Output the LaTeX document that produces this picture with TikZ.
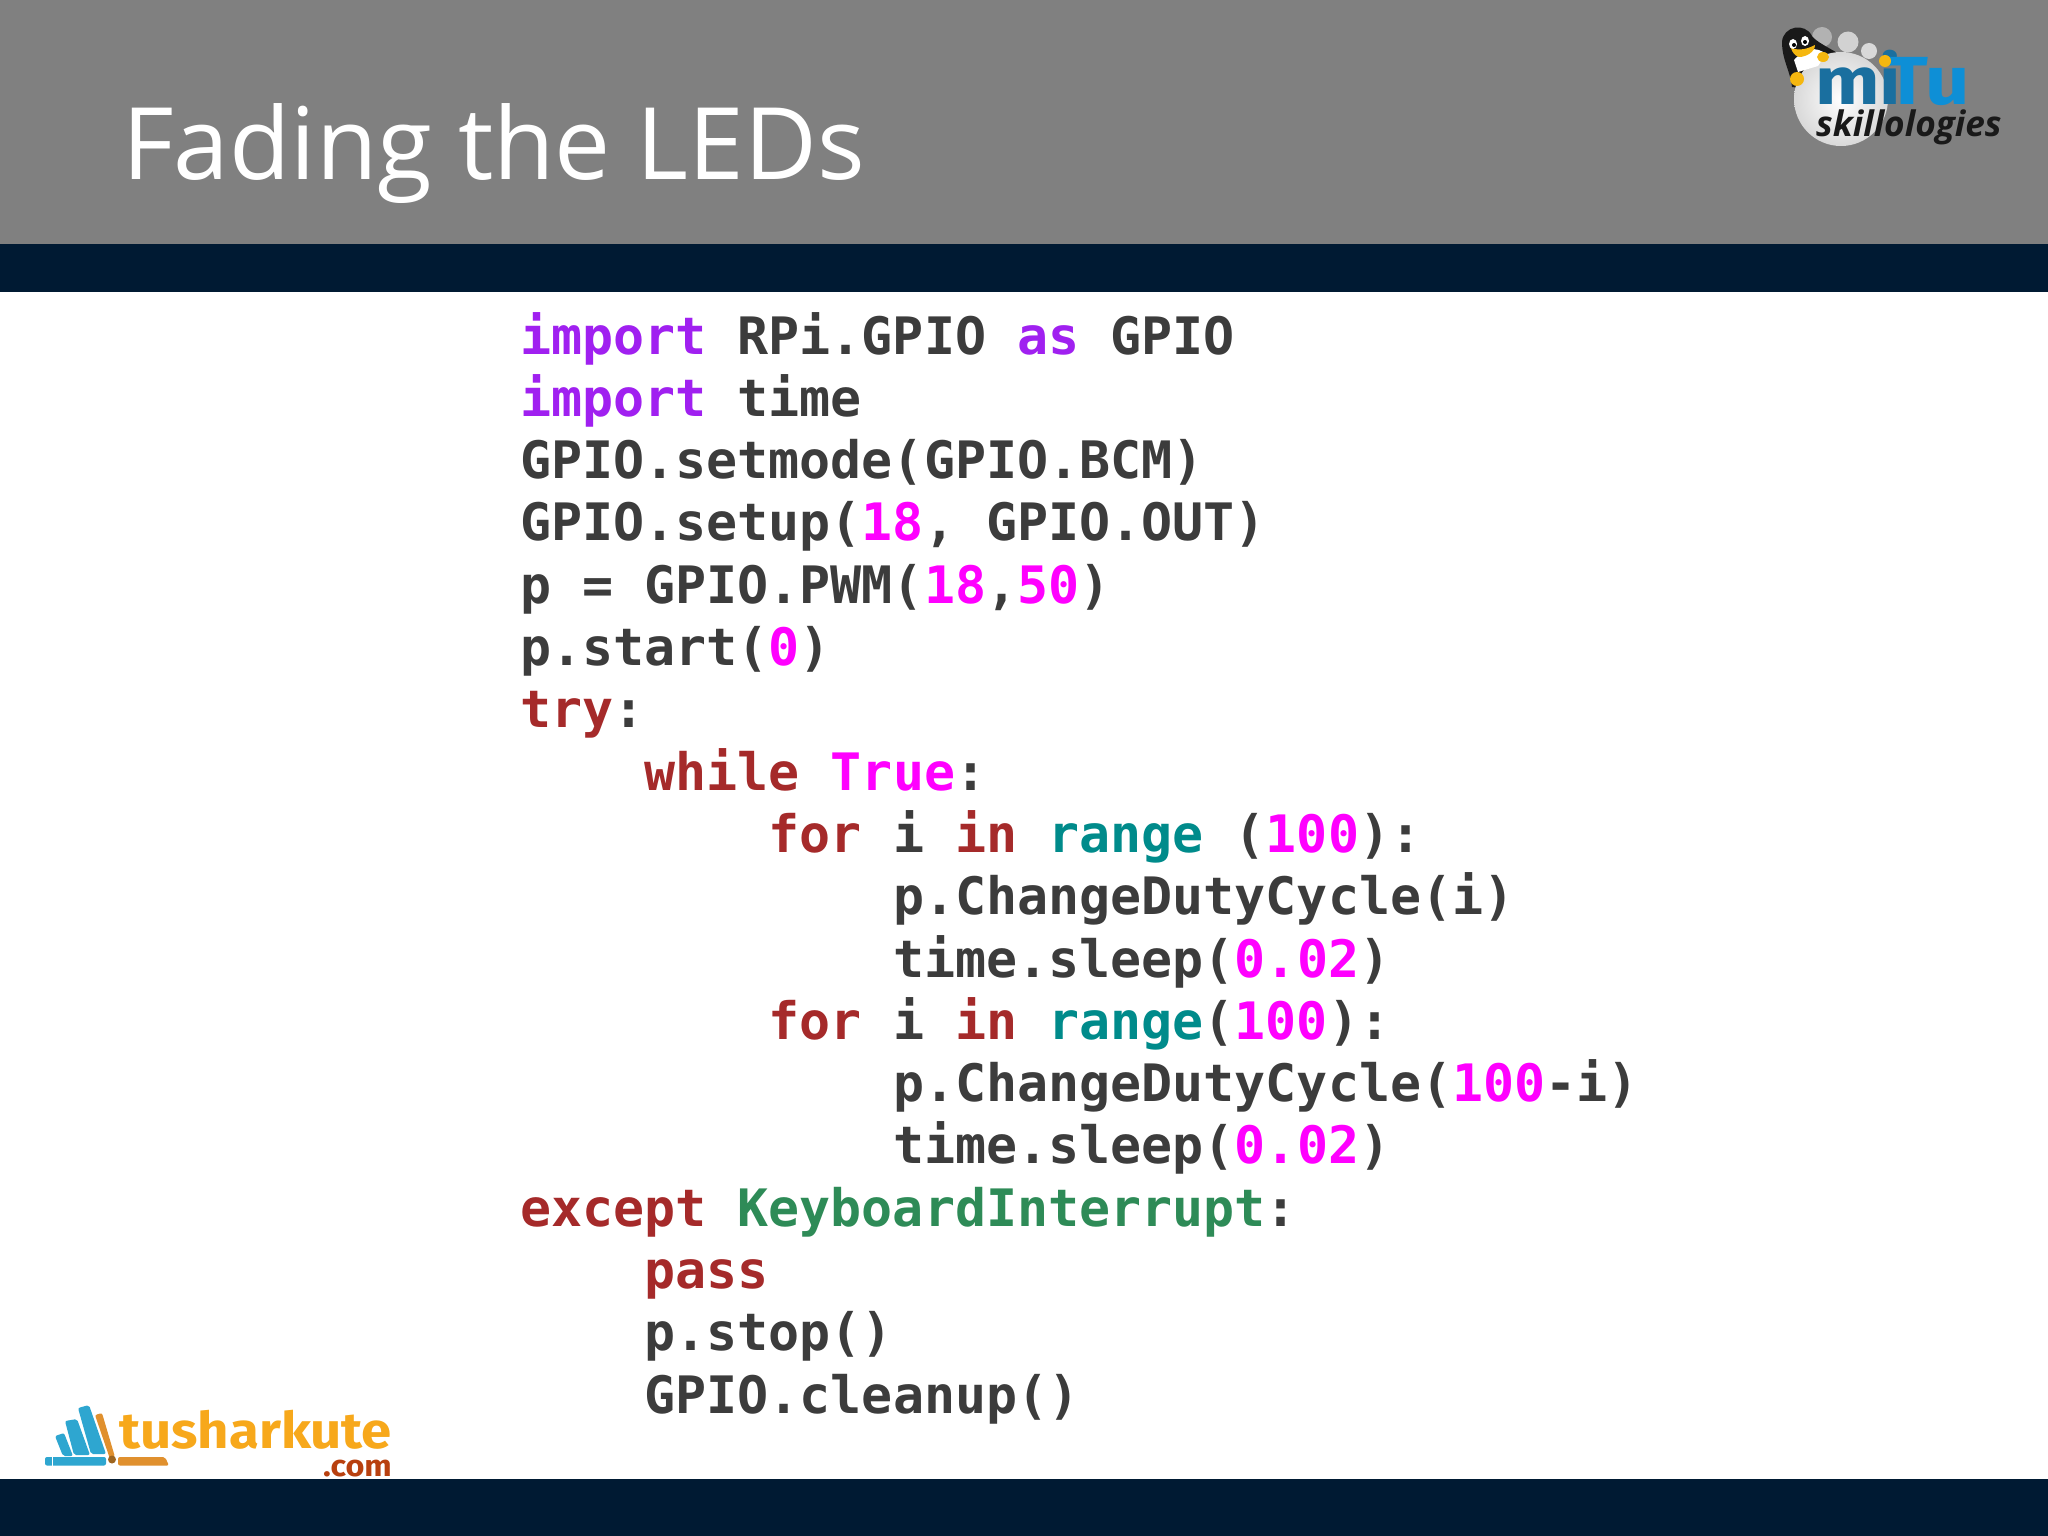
\documentclass[tikz,border=0pt]{standalone}
\usepackage{fontspec}
\setmainfont{Open Sans}
\newfontfamily\codefont{DejaVu Sans Mono}
\newfontfamily\logofont[FakeStretch=1.08]{Fira Sans}
\newfontfamily\miTufont[FakeStretch=1.14]{Fira Sans}
\newfontfamily\skillfont{Open Sans}
\definecolor{barGrey}{HTML}{808080}
\definecolor{barNavy}{HTML}{001A33}
\definecolor{cPurple}{HTML}{A020F0}
\definecolor{cText}{HTML}{3C3C3C}
\definecolor{cMag}{HTML}{FF00FF}
\definecolor{cBrown}{HTML}{A52A2A}
\definecolor{cTeal}{HTML}{008B8B}
\definecolor{cGreen}{HTML}{2E8B57}
\definecolor{miDark}{HTML}{1A6F9F}
\definecolor{miLight}{HTML}{0E8FD6}
\definecolor{bookBlue}{HTML}{2EA6D0}
\definecolor{bookOrange}{HTML}{E0902E}
\definecolor{tuOrange}{HTML}{F7A81B}
\definecolor{comRed}{HTML}{B8400F}
\definecolor{beakYellow}{HTML}{F5B70F}
\newcommand{\kwP}[1]{\textcolor{cPurple}{#1}}
\newcommand{\kwN}[1]{\textcolor{cMag}{#1}}
\newcommand{\kwB}[1]{\textcolor{cBrown}{#1}}
\newcommand{\kwT}[1]{\textcolor{cTeal}{#1}}
\newcommand{\kwG}[1]{\textcolor{cGreen}{#1}}
\tikzset{
  codeline/.style={anchor=base west,inner sep=0pt,text=cText,
    font=\codefont\bfseries\fontsize{51.6}{60}\selectfont},
  titletext/.style={anchor=base west,inner sep=0pt,text=white,
    font=\fontsize{100}{120}\selectfont},
  logotext/.style={anchor=base west,inner sep=0pt},
}
\begin{document}
\begin{tikzpicture}[x=1pt,y=-1pt]
\useasboundingbox (0,0) rectangle (2048,1536);
\fill[white] (0,0) rectangle (2048,1536);
\fill[barGrey] (0,0) rectangle (2048,244);
\fill[barNavy] (0,244) rectangle (2048,292);
\fill[barNavy] (0,1479) rectangle (2048,1536);
\node[titletext] (title) at (122,179) {Fading the LEDs};

% mitu logo
\fill[gray!60!white] (1822,37) circle (10);
\fill[gray!35!white] (1848,42) circle (10.5);
\fill[gray!30!white] (1869,51) circle (8);
\fill[black!90] (1782,42) .. controls (1783,26) and (1805,22) .. (1812,36)
  .. controls (1816,42) and (1830,48) .. (1842,56) -- (1800,88) -- (1792,87)
  .. controls (1790,70) and (1782,60) .. (1782,42) -- cycle;
\shade[inner color=white,outer color=gray!30] (1841,99) circle (47);
\fill[white] (1794,60) .. controls (1805,48) and (1816,46) .. (1826,54) -- (1818,66) -- (1798,72) -- cycle;
\fill[beakYellow] (1791,48) .. controls (1800,51) and (1807,49) .. (1815,45)
  .. controls (1815,52) and (1806,57) .. (1799,57) .. controls (1795,56) and (1792,52) .. (1791,48) -- cycle;
\fill[white] (1793,44) ellipse (4 and 5);
\fill[white] (1805,41) ellipse (4 and 5);
\fill[black] (1794,45) circle (2);
\fill[black] (1805,42) circle (2);
\fill[beakYellow] (1823,57) ellipse (6 and 5);
\fill[beakYellow] (1797,79) ellipse (7 and 7);
\node[logotext,text=miDark,font=\miTufont\bfseries\fontsize{67}{70}\selectfont] (mi) at (1815,105) {mi};
\node[logotext,text=miLight,font=\miTufont\bfseries\fontsize{68}{70}\selectfont] (tu) at (1886,105) {Tu};
\fill[beakYellow] (1885,61) circle (6);
\node[logotext,text=black!90,font=\skillfont\bfseries\itshape\fontsize{35.2}{40}\selectfont] (skill) at (1816,137) {skillologies};

% tusharkute logo
\fill[bookBlue,rounded corners=2pt] (45,1457) rectangle (106,1465.5);
\draw[white,line width=1pt] (52,1457) -- (52,1465.5);
\fill[bookBlue,rounded corners=2pt] (55,1436) -- (64,1433) -- (73,1456) -- (63,1456) -- cycle;
\fill[bookBlue,rounded corners=2pt] (65,1421) -- (77,1419) -- (90,1455) -- (74,1455) -- cycle;
\fill[bookBlue,rounded corners=2pt] (78,1408) -- (89,1405) -- (106,1454) -- (91,1454) -- cycle;
\fill[bookOrange,rounded corners=2pt] (95,1415) -- (102,1413) -- (115,1457) -- (110,1459) -- cycle;
\fill[bookOrange!70!black] (112,1459.5) circle (4);
\fill[bookOrange,rounded corners=2pt] (118,1457) -- (165,1457) -- (169,1465.5) -- (118,1465.5) -- cycle;
\node[logotext,text=tuOrange,font=\logofont\bfseries\fontsize{50.5}{60}\selectfont] (tk) at (119,1448) {tusharkute};
\node[anchor=base east,inner sep=0pt,text=comRed,font=\logofont\bfseries\fontsize{30}{40}\selectfont] (com) at (392,1476) {.com};

% code
\newcommand{\cl}[3]{\node[codeline] (line#1) at ({520+#2*31.08},{354+(#1-1)*62.3}) {#3};}
\cl{1}{0}{\kwP{import} RPi.GPIO \kwP{as} GPIO}
\cl{2}{0}{\kwP{import} time}
\cl{3}{0}{GPIO.setmode(GPIO.BCM)}
\cl{4}{0}{GPIO.setup(\kwN{18}, GPIO.OUT)}
\cl{5}{0}{p = GPIO.PWM(\kwN{18},\kwN{50})}
\cl{6}{0}{p.start(\kwN{0})}
\cl{7}{0}{\kwB{try}:}
\cl{8}{4}{\kwB{while} \kwN{True}:}
\cl{9}{8}{\kwB{for} i \kwB{in} \kwT{range} (\kwN{100}):}
\cl{10}{12}{p.ChangeDutyCycle(i)}
\cl{11}{12}{time.sleep(\kwN{0.02})}
\cl{12}{8}{\kwB{for} i \kwB{in} \kwT{range}(\kwN{100}):}
\cl{13}{12}{p.ChangeDutyCycle(\kwN{100}-i)}
\cl{14}{12}{time.sleep(\kwN{0.02})}
\cl{15}{0}{\kwB{except} \kwG{KeyboardInterrupt}:}
\cl{16}{4}{\kwB{pass}}
\cl{17}{4}{p.stop()}
\cl{18}{4}{GPIO.cleanup()}
\end{tikzpicture}
\end{document}
